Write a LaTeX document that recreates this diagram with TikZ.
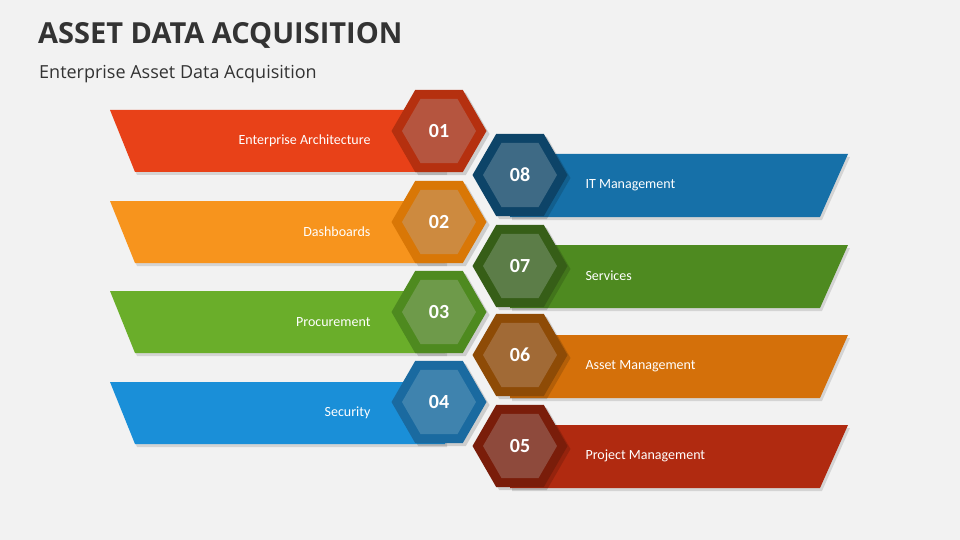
\documentclass[tikz,border=0pt]{standalone}
\usepackage{fontspec}
\setmainfont{Carlito}
\newfontfamily\titlefont{Open Sans}
\usetikzlibrary{shapes.geometric}
\definecolor{bg}{HTML}{F2F2F2}
\definecolor{ink}{HTML}{333333}
\tikzset{
 hexo/.style={regular polygon,regular polygon sides=6,minimum size=95pt,inner sep=0pt,draw=none},
 hexi/.style={regular polygon,regular polygon sides=6,minimum size=74pt,inner sep=0pt,draw=none,text=white,font=\bfseries\fontsize{20}{20}\selectfont},
 lab/.style={text=white,font=\fontsize{14}{14}\selectfont},
}
\begin{document}
\begin{tikzpicture}[x=1pt,y=-1pt]
\fill[bg] (0,0) rectangle (960,540);
\node[anchor=west,inner sep=0pt,font=\titlefont\bfseries\fontsize{29}{29}\selectfont,text=ink] (title) at (38,35) {ASSET DATA ACQUISITION};
\node[anchor=west,inner sep=0pt,font=\titlefont\fontsize{18}{18}\selectfont,text=ink] (sub) at (39,74) {Enterprise Asset Data Acquisition};
% left ribbons
\foreach \y/\c/\t [count=\i] in {110/E84118/Enterprise Architecture,201/F7941D/Dashboards,291/6AAE2A/Procurement,382/1A8FD8/Security}{
 \fill[black,opacity=0.12] (112,\y+3) -- (447,\y+3) -- (447,\y+65) -- (137,\y+65) -- cycle;
 \definecolor{cc}{HTML}{\c}
 \fill[cc] (110,\y) -- (445,\y) -- (445,\y+62) -- (135,\y+62) -- cycle;
 \node[lab,anchor=east] (lt\i) at (374,\y+31) {\t};
}
% left hexes
\foreach \y/\o/\n/\t [count=\i] in {131/B5300F/B5553F/01,222/D97706/CD8A3F/02,312/4E8A1F/6E9A4A/03,402/1A6AA0/3F83AE/04}{
 \definecolor{oo}{HTML}{\o}\definecolor{nn}{HTML}{\n}
 \node[hexo,fill=black,opacity=0.15] at (442,\y+3) {};
 \node[hexo,fill=oo] (ho\i) at (439,\y) {};
 \node[hexi,fill=nn] (hi\i) at (ho\i) {\t};
}
% right ribbons
\foreach \y/\c/\t [count=\i] in {154/1670A8/IT Management,245/4E8A20/Services,335/D4700A/Asset Management,425/B02A10/Project Management}{
 \fill[black,opacity=0.12] (512,\y+3) -- (850,\y+3) -- (822,\y+66) -- (512,\y+66) -- cycle;
 \definecolor{cc}{HTML}{\c}
 \fill[cc] (510,\y) -- (848,\y) -- (820,\y+63) -- (510,\y+63) -- cycle;
 \node[lab,anchor=west] (rt\i) at (582,\y+31) {\t};
}
% right hexes
\foreach \y/\o/\n/\t [count=\i] in {175/0D4468/3E6A85/08,266/365E17/5C7D48/07,355/8E4B06/A16A36/06,446/7A1D0A/8E4A3C/05}{
 \definecolor{oo}{HTML}{\o}\definecolor{nn}{HTML}{\n}
 \node[hexo,fill=black,opacity=0.15] at (523,\y+3) {};
 \node[hexo,fill=oo] (hr\i) at (520,\y) {};
 \node[hexi,fill=nn] (hri\i) at (hr\i) {\t};
}
\end{tikzpicture}
\end{document}
